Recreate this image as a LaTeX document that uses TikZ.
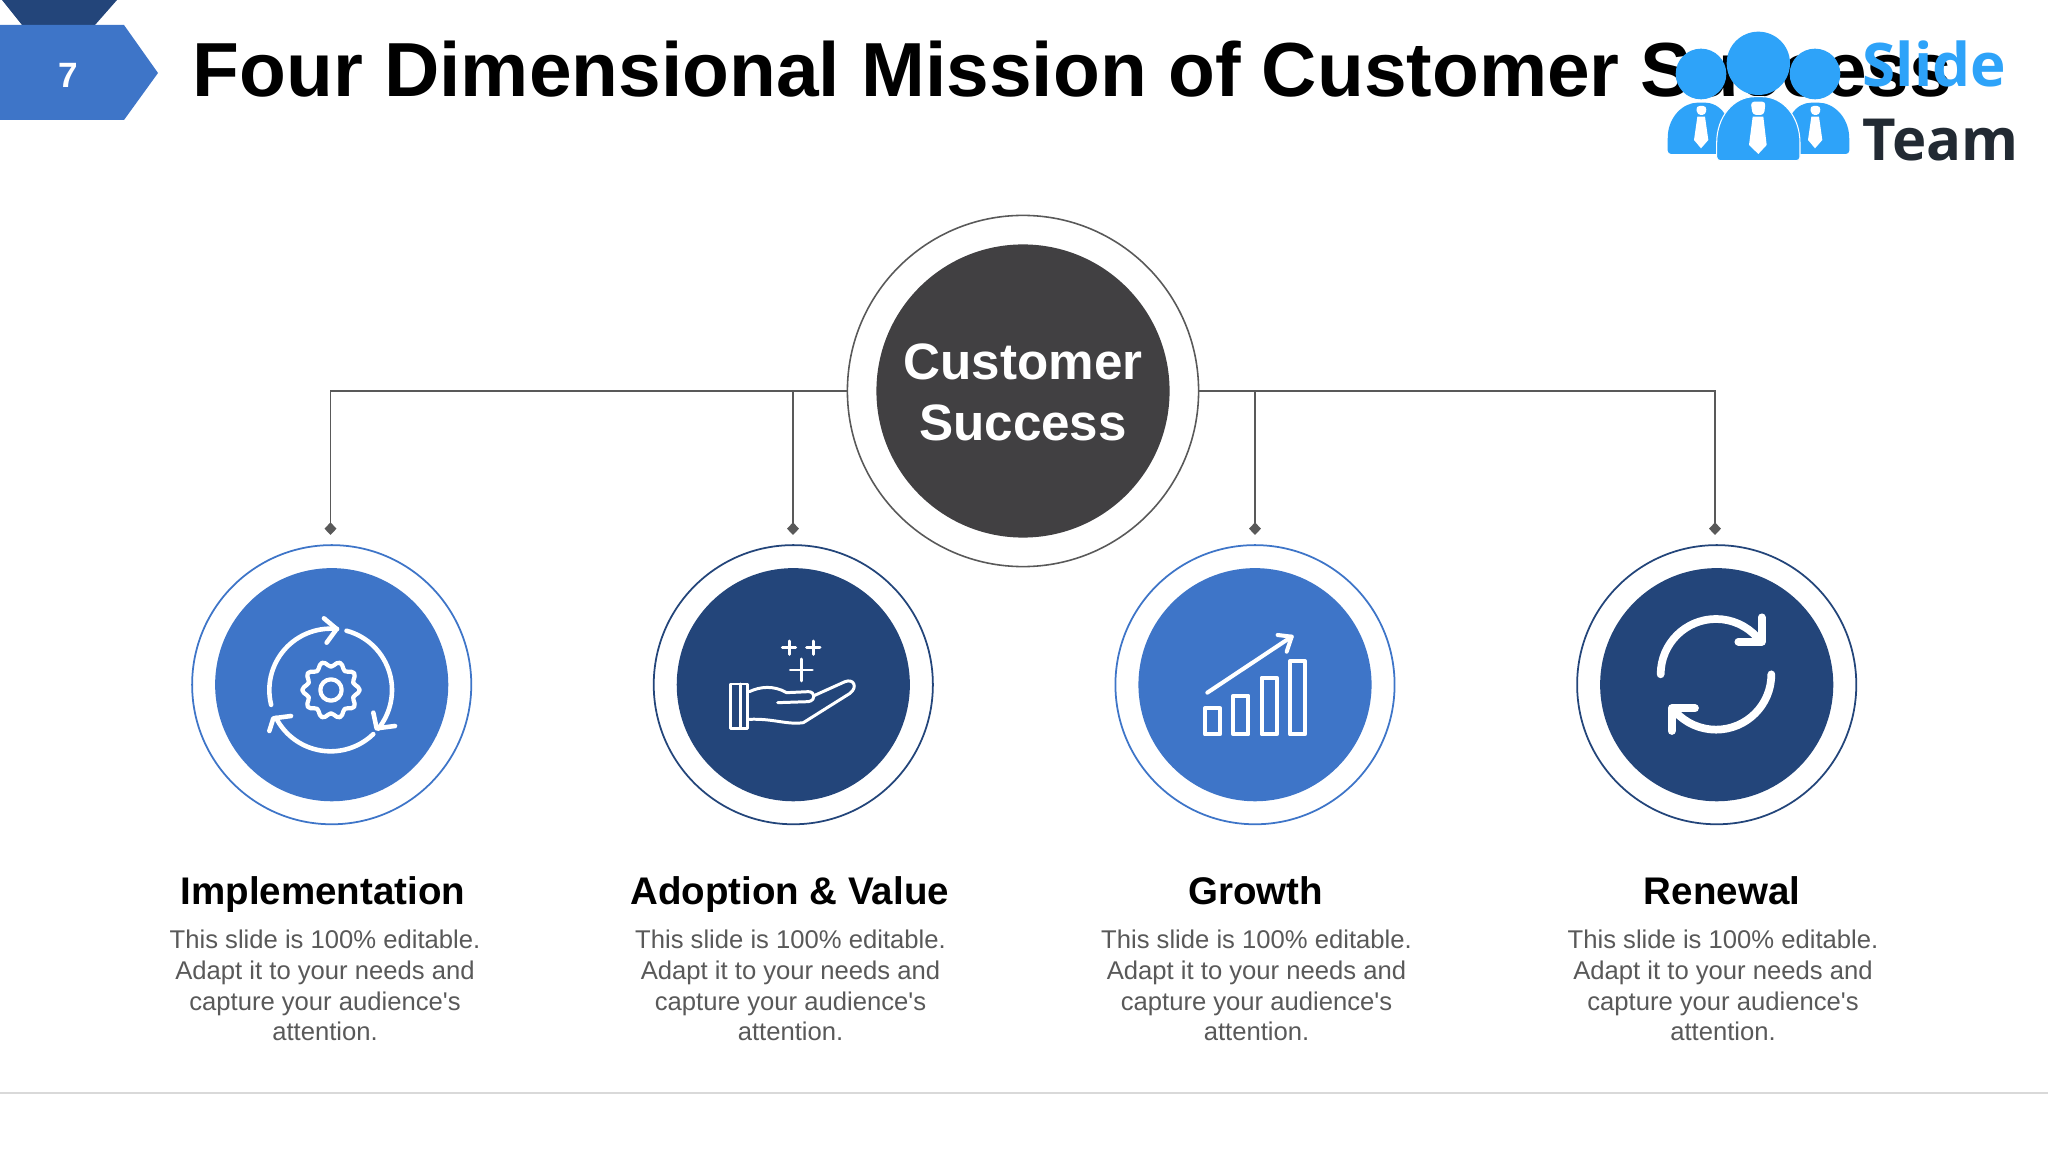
\documentclass[tikz,border=0pt]{standalone}
\usepackage{fontspec}
\setmainfont[Ligatures=TeXOff]{Liberation Sans}
\newfontfamily\logofont{Open Sans}
\usetikzlibrary{arrows.meta}
\definecolor{midblue}{HTML}{3E75C8}
\definecolor{deepblue}{HTML}{23457A}
\definecolor{hubgray}{HTML}{414042}
\definecolor{linkgray}{HTML}{595959}
\definecolor{logoblue}{HTML}{2EA3F9}
\definecolor{logodark}{HTML}{222A33}
\tikzset{
  hubring/.style={circle, draw=linkgray, line width=0.45pt, fill=white, minimum size=3.51cm, inner sep=0pt},
  hubdisc/.style={circle, fill=hubgray, minimum size=2.93cm, inner sep=0pt},
  hublabel/.style={inner sep=0pt, align=center, text=white, font=\fontsize{14.55}{17.35}\selectfont\bfseries},
  ring/.style={circle, draw=#1, line width=0.5pt, fill=white, minimum size=2.79cm, inner sep=0pt},
  disc/.style={circle, fill=#1, minimum size=2.33cm, inner sep=0pt},
  link/.style={draw=linkgray, line width=0.52pt, -{Diamond[length=3.6pt,width=3.4pt]}},
  heading/.style={anchor=base, inner sep=0pt, font=\fontsize{10.95}{13}\selectfont\bfseries},
  blurb/.style={anchor=north, inner sep=0pt, align=center, text=linkgray, font=\fontsize{7.29}{8.73}\selectfont},
  iconline/.style={draw=white, line width=#1, line cap=round, line join=round}
}
\begin{document}
\begin{tikzpicture}[x=0.01cm, y=-0.01cm]
\useasboundingbox (0,0) rectangle (2048,1152);
\fill[white] (0,0) rectangle (2048,1152);

% Draw the page tab and the title
\fill[deepblue] (2,0) -- (117,0) -- (95,25) -- (22,25) -- cycle;
\fill[midblue] (0,25) -- (124,25) -- (158,73) -- (124,120) -- (0,120) -- cycle;
\node[text=white, inner sep=0pt, font=\fontsize{10}{12}\selectfont\bfseries] (pagenum) at (68,75) {7};
\node[anchor=base west, inner sep=0pt, font=\fontsize{21.8}{26}\selectfont\bfseries] (title) at (192,97) {Four Dimensional Mission of Customer Success};

% Draw the logo over the title
\begin{scope}[shift={(1600,0)}, scale=1/3]
\fill[logoblue, rounded corners=1pt] (203,462) -- (203,420) .. controls (205,350) and (250,308) .. (303,308) .. controls (360,308) and (400,350) .. (400,462) -- cycle;
\fill[logoblue, rounded corners=1pt] (748,462) -- (748,420) .. controls (745,350) and (700,308) .. (645,308) .. controls (590,308) and (550,350) .. (550,462) -- cycle;
\filldraw[fill=logoblue, draw=white, line width=0.3pt, rounded corners=1pt] (350,482) -- (350,440) .. controls (350,350) and (400,290) .. (475,290) .. controls (550,290) and (600,350) .. (600,440) -- (600,482) -- cycle;
\fill[logoblue] (475,190) circle (95);
\fill[logoblue] (303,222) circle (76);
\fill[logoblue] (645,222) circle (76);
\fill[white, rounded corners=1pt] (452,305) -- (497,305) -- (492,345) -- (458,345) -- cycle;
\fill[white] (458,350) -- (490,350) -- (500,435) -- (475,462) -- (447,435) -- cycle;
\fill[white, rounded corners=1pt] (288,318) -- (320,318) -- (317,345) -- (292,345) -- cycle;
\fill[white] (292,350) -- (315,350) -- (325,420) -- (303,445) -- (282,420) -- cycle;
\fill[white, rounded corners=1pt] (630,318) -- (662,318) -- (659,345) -- (634,345) -- cycle;
\fill[white] (634,350) -- (657,350) -- (667,420) -- (645,445) -- (624,420) -- cycle;
\end{scope}
\node[anchor=base west, inner sep=0pt, text=logoblue, font=\fontsize{17.1}{20}\logofont\bfseries] (logotop) at (1862,87) {Slide};
\node[anchor=base west, inner sep=0pt, text=logodark, font=\fontsize{16.5}{20}\logofont\bfseries] (logobottom) at (1862,161) {Team};

% Draw the central circle
\node[hubring] (hub) at (1023,391) {};
\node[hubdisc] (hubfill) at (hub) {};
\node[hublabel] (hubtext) at (1023,392.5) {Customer\\Success};

% Draw the four circles
\node[ring=midblue] (ringa) at (331.7,684.7) {};
\node[disc=midblue] (disca) at (ringa) {};
\node[ring=deepblue] (ringb) at (793.3,684.7) {};
\node[disc=deepblue] (discb) at (ringb) {};
\node[ring=midblue] (ringc) at (1255,684.7) {};
\node[disc=midblue] (discc) at (ringc) {};
\node[ring=deepblue] (ringd) at (1716.7,684.7) {};
\node[disc=deepblue] (discd) at (ringd) {};

% Draw the connectors
\coordinate (tipa) at (330.5,535);
\coordinate (tipb) at (793,535);
\coordinate (tipc) at (1255,535);
\coordinate (tipd) at (1715,535);
\draw[link] (hub.west) -| (tipa);
\draw[link] (hub.west) -| (tipb);
\draw[link] (hub.east) -| (tipc);
\draw[link] (hub.east) -| (tipd);

% Icon: gear and three arrows
\begin{scope}[shift={(180,530)}, scale=1/3]
\draw[iconline=1.3pt] (452,480) ++(166:184) arc (166:276:184);
\draw[iconline=1.3pt] (452,480) ++(285:184) arc (285:399:184);
\draw[iconline=1.3pt] (452,480) ++(46:184) arc (46:153:184);
\draw[iconline=1.3pt] (432,265) -- (470,297) -- (440,338);
\draw[iconline=1.3pt] (580,548) -- (590,595) -- (645,588);
\draw[iconline=1.3pt] (333,558) -- (280,565) -- (268,603);
\draw[iconline=1.2pt] (453,480) circle (32);
\draw[iconline=1.2pt, shift={(453,480)}] plot[smooth cycle, samples=60, domain=0:354] (\x:{78+8*cos(10*\x)});
\end{scope}

% Icon: open hand
\begin{scope}[shift={(640,530)}, scale=1/3]
\draw[iconline=0.85pt] (272,462) rectangle (322,595);
\draw[iconline=0.85pt] (302,462) -- (302,595);
\draw[iconline=0.85pt] (328,485) .. controls (360,470) and (400,465) .. (440,488) -- (505,485) .. controls (525,485) and (530,510) .. (505,515) -- (413,518);
\draw[iconline=0.85pt] (522,497) -- (615,455) .. controls (640,445) and (655,470) .. (630,490) -- (490,578) .. controls (440,585) and (400,565) .. (328,568);
\draw[iconline=0.85pt] (447,333) -- (447,373);
\draw[iconline=0.85pt] (427,353) -- (467,353);
\draw[iconline=0.85pt] (520,333) -- (520,373);
\draw[iconline=0.85pt] (500,353) -- (540,353);
\draw[iconline=0.85pt] (484,387) -- (484,453);
\draw[iconline=0.85pt] (451,420) -- (517,420);
\end{scope}

% Icon: bars and rising arrow
\begin{scope}[shift={(1100,530)}, scale=1/3]
\draw[iconline=1.15pt] (315,535) rectangle (360,613);
\draw[iconline=1.15pt] (400,497) rectangle (445,613);
\draw[iconline=1.15pt] (485,443) rectangle (530,613);
\draw[iconline=1.15pt] (570,393) rectangle (615,613);
\draw[iconline=1.15pt] (322,488) -- (575,320);
\draw[iconline=1.15pt] (533,315) -- (575,320) -- (560,365);
\end{scope}

% Icon: two round arrows
\begin{scope}[shift={(1570,530)}, scale=1/3]
\draw[iconline=2.2pt] (438,433) ++(180:166) arc (180:318:166);
\draw[iconline=2.2pt] (575,262) -- (575,335) -- (505,335);
\draw[iconline=2.2pt] (438,433) ++(0:166) arc (0:138:166);
\draw[iconline=2.2pt] (375,535) -- (305,535) -- (305,603);
\end{scope}

% Insert the headings and the texts
\node[heading] (heada) at (323,904) {Implementation};
\node[blurb] (texta) at (325,929.5) {This slide is 100\% editable.\\Adapt it to your needs and\\capture your audience's\\attention.};
\node[heading] (headb) at (789.6,904) {Adoption \& Value};
\node[blurb] (textb) at (790.5,929.5) {This slide is 100\% editable.\\Adapt it to your needs and\\capture your audience's\\attention.};
\node[heading] (headc) at (1255.5,904) {Growth};
\node[blurb] (textc) at (1256.5,929.5) {This slide is 100\% editable.\\Adapt it to your needs and\\capture your audience's\\attention.};
\node[heading] (headd) at (1722,904) {Renewal};
\node[blurb] (textd) at (1723,929.5) {This slide is 100\% editable.\\Adapt it to your needs and\\capture your audience's\\attention.};

% Draw the bottom rule
\draw[draw=black!15, line width=0.45pt] (0,1093) -- (2048,1093);
\end{tikzpicture}
\end{document}
